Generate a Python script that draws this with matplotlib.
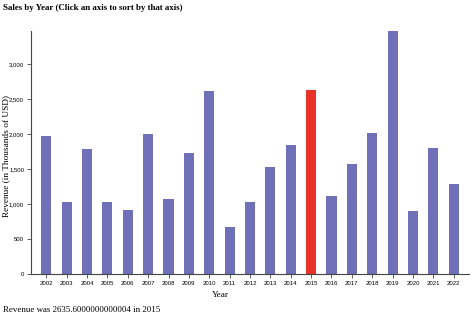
import matplotlib
matplotlib.use("Agg")
import matplotlib.pyplot as plt
from matplotlib.ticker import FuncFormatter, MultipleLocator

years = [str(y) for y in range(2002, 2023)]
revenue = [1976, 1023, 1794, 1037, 919, 2000, 1066, 1729, 2614, 671,
           1028, 1537, 1852, 2635.6, 1114, 1576, 2019, 3476, 895, 1800, 1294]
highlight_year = "2015"
title = "Sales by Year (Click an axis to sort by that axis)"
x_label = "Year"
y_label = "Revenue (in Thousands of USD)"
status = "Revenue was 2635.6000000000004 in 2015"

W, H = 474, 323
fig = plt.figure(figsize=(W / 100, H / 100), dpi=100)
ax = fig.add_axes([31 / W, (H - 274) / H, 438 / W, 243 / H])

colors = ["#e8322a" if y == highlight_year else "#7070b8" for y in years]
x = list(range(len(years)))
ax.bar(x, revenue, width=0.5, color=colors)
ax.set_xlim(-0.75, len(years) - 0.25)
ax.set_ylim(0, max(revenue))
ax.set_xticks(x)
ax.set_xticklabels(years)
ax.yaxis.set_major_locator(MultipleLocator(500))
ax.yaxis.set_major_formatter(FuncFormatter(lambda v, p: f"{int(v):,}"))

for s in ["top", "right"]:
    ax.spines[s].set_visible(False)
for s in ["left", "bottom"]:
    ax.spines[s].set_color("#444444")
    ax.spines[s].set_linewidth(0.8)
ax.tick_params(axis="both", labelsize=4.3, length=3, width=0.6, color="#444444", pad=2)
for lab in ax.get_xticklabels() + ax.get_yticklabels():
    lab.set_family("Liberation Sans")

serif = "Liberation Serif"
fig.text(3 / W, 1 - 8 / H, title, family=serif, weight="bold", fontsize=6.4, va="center", ha="left")
fig.text(220 / W, 1 - 295 / H, x_label, family=serif, fontsize=6.6, va="center", ha="center")
fig.text(6 / W, 1 - 156 / H, y_label, family=serif, fontsize=6.7, va="center", ha="center", rotation=90)
fig.text(3 / W, 1 - 310 / H, status, family=serif, fontsize=6.4, va="center", ha="left")

fig.savefig("out.png", dpi=100)
